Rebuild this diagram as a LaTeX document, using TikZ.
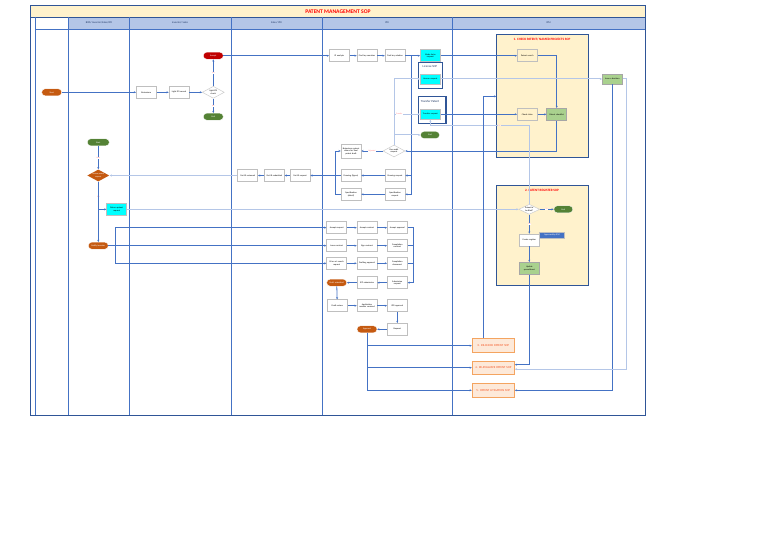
\documentclass[tikz,border=0pt]{standalone}
\usepackage{fontspec}
\setmainfont{Carlito}
\usetikzlibrary{arrows.meta,shapes.geometric,calc}
\definecolor{lanec}{HTML}{4472C4}
\definecolor{framec}{HTML}{2F5597}
\definecolor{hdrc}{HTML}{B4C6E7}
\definecolor{ttlc}{HTML}{FFF2CC}
\definecolor{connc}{HTML}{4472C4}
\definecolor{lightcc}{HTML}{B4C6E7}
\definecolor{boxgray}{HTML}{BFBFBF}
\definecolor{cyanf}{HTML}{00FFFF}
\definecolor{greenf}{HTML}{A9D18E}
\definecolor{orangef}{HTML}{C55A11}
\definecolor{greent}{HTML}{548235}
\definecolor{redt}{HTML}{C00000}
\definecolor{sopfill}{HTML}{FDE9D9}
\definecolor{sopdraw}{HTML}{F4A460}
\definecolor{soptext}{HTML}{F4511E}
\definecolor{pinkl}{HTML}{FF7C80}
\definecolor{bluef}{HTML}{4472C4}
\definecolor{darkt}{HTML}{1F3864}
\newcommand\tinyf{\fontsize{2.2}{2.5}\selectfont}
\newcommand\hdrf{\fontsize{2.6}{3}\selectfont}
\begin{document}
\begin{tikzpicture}[x=1pt,y=-1pt,
  every node/.style={font=\tinyf, inner sep=0.5pt},
  box/.style={draw=boxgray, line width=0.6pt, fill=white, minimum width=20pt, minimum height=12pt, text width=17pt, align=center},
  cbox/.style={box, fill=cyanf},
  gbox/.style={box, fill=greenf, draw=gray!70},
  ybox/.style={box, fill=ttlc},
  term/.style={rounded corners=3.5pt, minimum width=20pt, minimum height=7pt, text=white, text width=18pt, align=center, draw=white, line width=0.3pt},
  oterm/.style={term, fill=orangef},
  gterm/.style={term, fill=greent},
  rterm/.style={term, fill=redt},
  decision/.style={diamond, draw=gray!40, line width=0.5pt, fill=white, minimum width=22pt, minimum height=12pt, inner sep=0pt},
  region/.style={draw=framec, line width=1pt, fill=ttlc, inner sep=0pt},
  regtitle/.style={font=\bfseries\fontsize{3.3}{4}\selectfont, text=red},
  grp/.style={draw=framec, line width=1.3pt, fill=white, inner sep=0pt},
  grptitle/.style={font=\fontsize{3}{3.5}\selectfont, text=darkt},
  sop/.style={draw=sopdraw, line width=1pt, fill=sopfill, minimum width=42pt, minimum height=14pt, text width=38pt, align=center, text=soptext, font=\fontsize{3}{3.6}\selectfont},
  hdrtext/.style={font=\hdrf, text=darkt},
  plabel/.style={fill=white, text=pinkl, font=\fontsize{1.9}{2}\selectfont, inner sep=0.3pt},
  conn/.style={draw=connc, line width=0.8pt, -{Stealth[length=2.2pt,width=2pt]}},
  connl/.style={draw=connc, line width=0.8pt},
  lightl/.style={draw=lightcc, line width=1pt, -{Stealth[length=2.2pt,width=2pt]}},
  lanel/.style={draw=lanec, line width=0.8pt}
]
\useasboundingbox (0,0) rectangle (768,537);
\fill[white] (0,0) rectangle (768,537);
% ---------- title and header ----------
\fill[ttlc] (30,6) rectangle (645,17);
\node[font=\bfseries\fontsize{5.6}{6.5}\selectfont, text=red] (title) at (338,11.5) {PATENT MANAGEMENT SOP};
\fill[hdrc] (68,17) rectangle (645,29);
\draw[lanel] (35,29) -- (645,29);
\draw[framec, line width=0.8pt] (30,17) -- (645,17);
\draw[lanel] (35,17) -- (35,415);
\draw[lanel, line width=1.5pt] (68.5,17) -- (68.5,415);
\draw[lanel, line width=1pt] (129,17) -- (129,415);
\draw[lanel, line width=1pt] (231,17) -- (231,415);
\draw[lanel, line width=1pt] (322,17) -- (322,415);
\draw[lanel, line width=1pt] (452,17) -- (452,415);
\draw[framec, line width=1pt] (30,6) rectangle (645,415);
\node[hdrtext] (h1) at (99,23) {BOD/ Inventor/Sales/IPO};
\node[hdrtext] (h2) at (180,23) {Inventor/ Sales};
\node[hdrtext] (h3) at (276.5,23) {Sales/ IPO};
\node[hdrtext] (h4) at (387,23) {IPO};
\node[hdrtext] (h5) at (548.5,23) {IPM};
% ---------- regions ----------
\node[region, minimum width=91.6pt, minimum height=122.7pt] (reg1) at (542.5,96.35) {};
\node[regtitle] (reg1t) at (542,39) {1. CHECK PATENT/ NAMED PROJECTS SOP};
\node[region, minimum width=91.6pt, minimum height=100.3pt] (reg2) at (542.5,235.85) {};
\node[regtitle] (reg2t) at (542,190) {2. PATENT REGISTER SOP};
\node[grp, minimum width=24.4pt, minimum height=26pt] (licg) at (430.5,75.3) {};
\node[grptitle] (licgt) at (430,66.5) {License SOP};
\node[grp, minimum width=27.7pt, minimum height=26.6pt] (trg) at (432.15,110) {};
\node[grptitle] (trgt) at (430,101) {Transfer Patent};
% ---------- lane 0 ----------
\node[oterm] (start) at (51.7,92.3) {Start};
% ---------- lane 1 ----------
\node[gterm, minimum width=22pt] (start2) at (98.3,142.3) {Start};
\node[decision, fill=orangef, draw=none, label={[text=white, align=center, font=\fontsize{2}{2.3}\selectfont]center:Review patent\\request}] (review) at (98.3,175.5) {};
\node[cbox] (retreq) at (116.7,209.3) {Return patent request};
\node[oterm] (notify) at (98.3,245.7) {Notify inventor};
% ---------- lane 2 ----------
\node[box] (brain) at (146.3,92.3) {Brainstorm};
\node[box] (lightref) at (179,92.3) {Light IPS search};
\node[decision, label={[align=center]center:Light IPS\\check}] (lightchk) at (213.3,92.3) {};
\node[rterm] (accept) at (213.3,55.7) {Accept};
\node[gterm] (end1) at (213.3,116.7) {End};
% ---------- lane 3 ----------
\node[box] (gir1) at (247.7,175.5) {Get IR reviewed};
\node[box] (gir2) at (274.3,175.5) {Get IR submitted};
\node[box] (gir3) at (300,175.5) {Get IR request};
% ---------- lane 4 (IPO) ----------
\node[box] (ipa) at (339.3,55.7) {IP analysis};
\node[box] (fks) at (367,55.7) {Find key searches};
\node[box] (fksol) at (395,55.7) {Find key solution};
\node[cbox] (mcr) at (430.3,55.7) {Make claim request};
\node[cbox, minimum height=10pt] (lreq) at (430.3,79) {License request};
\node[cbox, minimum height=10pt] (treq) at (430.3,114.3) {Transfer request};
\node[gterm, minimum width=18pt] (end2) at (430,135) {End};
\node[box, minimum height=14pt] (bpc) at (351,151) {Brainstorm patent claims for final patent draft};
\node[decision, label={[align=center]center:Pass audit\\request}] (pass) at (394,151) {};
\node[box] (drw) at (351,175.5) {Drawing (figure)};
\node[box] (drwreq) at (395,175.5) {Drawing request};
\node[box] (spec) at (351,194.3) {Specification (detail)};
\node[box] (specreq) at (395,194.3) {Specification request};
\node[box] (r1a) at (336.7,227.7) {Accept request};
\node[box] (r1b) at (367,227.7) {Accept contract};
\node[box] (r1c) at (397.3,227.7) {Accept approval};
\node[box] (r2a) at (336.7,245.7) {Issue contract};
\node[box] (r2b) at (367,245.7) {Sign contract};
\node[box] (r2c) at (397.3,245.7) {Completion contract};
\node[box] (r3a) at (336.7,263.3) {Prior art search request};
\node[box] (r3b) at (367,263.3) {Drafting approval};
\node[box] (r3c) at (397.3,263.3) {Completion document};
\node[oterm] (r4a) at (336.7,282.7) {Draft submitted};
\node[box] (r4b) at (367,282.7) {IPO submission};
\node[box] (r4c) at (397.3,282.7) {Submission request};
\node[box] (r5a) at (337.3,305.7) {Draft review};
\node[box] (r5b) at (367,305.7) {Application number received};
\node[box] (r5c) at (397.3,305.7) {IPO approval};
\node[oterm] (r6b) at (367,329.3) {Approval};
\node[box] (r6c) at (397.3,329.3) {Request};
% ---------- lane 5 (IPM) ----------
\node[ybox] (psearch) at (527.3,55.7) {Patent search};
\node[ybox] (cclaim) at (527.3,114.3) {Check claim};
\node[gbox] (pcheck) at (556.7,114.3) {Patent checklist};
\node[gbox, minimum height=10pt] (issue) at (612.3,79) {Issue a decision};
\node[decision, minimum width=21pt, minimum height=10pt, label={[align=center]center:Patent to\\be filed?}] (filed) at (529.3,209.3) {};
\node[gterm, minimum width=19pt] (end3) at (563.3,209.3) {End};
\node[box] (creg) at (529.3,240) {Create register};
\node[fill=bluef, text=white, minimum width=25pt, minimum height=6pt, draw=gray!50, line width=0.3pt] (appr) at (552,235) {Approved by IPM};
\node[gbox] (upd) at (529.3,268.3) {Update spreadsheet};
\node[sop] (sop3) at (493.3,345.7) {3. RE-CHECK PATENT SOP};
\node[sop, minimum height=13.3pt] (sop4) at (493.3,367.7) {4. RE-EVALUATE PATENT SOP};
\node[sop] (sop5) at (493.3,390.3) {5. PATENT LITIGATION SOP};
% ---------- connectors ----------
\draw[conn] (start) -- (brain);
\draw[conn] (brain) -- (lightref);
\draw[conn] (lightref) -- (lightchk);
\draw[conn] (lightchk) -- node[plabel]{Yes} (accept);
\draw[conn] (lightchk) -- node[plabel]{No} (end1);
\draw[conn] (accept) -- (ipa);
\draw[conn] (ipa) -- (fks);
\draw[conn] (fks) -- (fksol);
\draw[conn] (fksol) -- (mcr);
\coordinate (j1) at (411.7,55.7);
\draw[conn] (j1) |- (drwreq.east);
\draw[conn] (j1) |- (specreq.east);
\draw[conn] (drwreq) -- (drw);
\draw[conn] (specreq) -- (spec);
\draw[conn] (spec.west) -- ++(-5.3,0) |- (bpc.west);
\draw[conn] (pass) -- node[plabel]{Rejected} (bpc);
\draw[conn] (drw) -- (gir3);
\draw[conn] (gir3) -- (gir2);
\draw[conn] (gir2) -- (gir1);
\draw[lightl] (gir1) -- (review);
\draw[lightl] (pass.north) |- (lreq.west);
\draw[lightl] (pass.north) |- node[plabel, pos=0.6]{Transfer} (treq.west);
\draw[lightl] (pass.north) |- (end2.west);
\draw[conn] (mcr) -- (psearch);
\draw[conn] (psearch.east) -| (pcheck.north);
\draw[conn] (treq) -- (cclaim);
\draw[conn] (cclaim) -- (pcheck);
\draw[lightl] (lreq) -- (issue);
\draw[conn] (pcheck.south) |- (pass.east);
\draw[lightl] (filed.north) -- ++(0,-78.6) -| node[plabel, pos=0.15]{No} (treq.south);
% lane 1
\draw[conn] (start2) -- node[plabel]{New} (review);
\draw[conn] (review) -- node[plabel, pos=0.25]{Yes} (notify);
\draw[conn] (review.south) |- (retreq.west);
\draw[lightl] (retreq) -- (filed);
\coordinate (nb) at (115,245.7);
\draw[conn] (notify) -- (r2a);
\draw[conn] (nb) |- (r1a.west);
\draw[conn] (nb) |- (r3a.west);
% region 2
\draw[conn] (filed) -- node[plabel]{No} (end3);
\draw[conn] (filed) -- node[plabel]{Yes} (creg);
\draw[conn] (creg) -- (upd);
\draw[conn] (upd.south) |- ([yshift=3pt]sop4.east);
\draw[conn] (issue.south) |- (sop5.east);
\draw[lightl] (issue.east) -- ++(3.4,0) |- ([yshift=-1.5pt]sop4.east);
\draw[conn] ([xshift=-10pt]sop3.north) |- (reg1.west);
% IPO rows
\draw[conn] (r1a) -- (r1b);
\draw[conn] (r1b) -- (r1c);
\draw[conn] (r2a) -- (r2b);
\draw[conn] (r2b) -- (r2c);
\draw[conn] (r3a) -- (r3b);
\draw[conn] (r3b) -- (r3c);
\draw[conn] (r1c.east) -- ++(6,0) |- (r4c.east);
\draw[connl] (r2c.east) -- ++(6,0);
\draw[connl] (r3c.east) -- ++(6,0);
\draw[conn] (r4c) -- (r4b);
\draw[conn] (r4b) -- (r4a);
\draw[conn] (r4a) -- (r5a);
\draw[conn] (r5a) -- (r5b);
\draw[conn] (r5b) -- (r5c);
\draw[conn] (r5c) -- (r6c);
\draw[conn] (r6c) -- (r6b);
\draw[conn] (r6b.south) |- (sop3.west);
\draw[conn] (r6b.south) |- (sop4.west);
\draw[conn] (r6b.south) |- (sop5.west);
\end{tikzpicture}
\end{document}
